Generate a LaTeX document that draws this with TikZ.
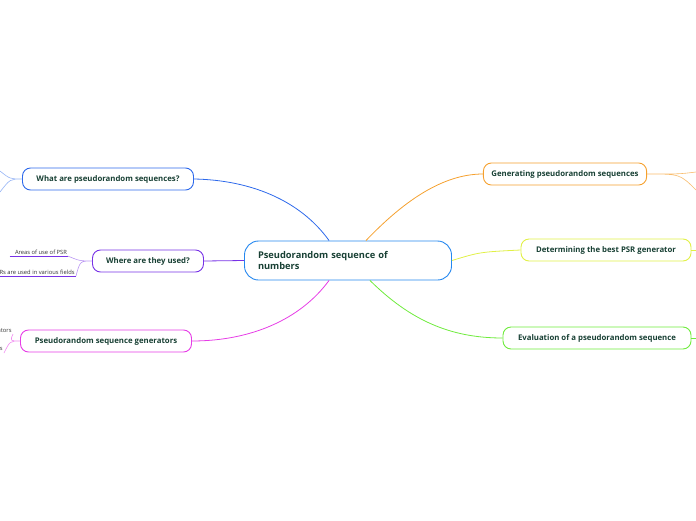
\documentclass[tikz,border=0pt]{standalone}
\usepackage{fontspec}
\setmainfont{Open Sans}
\usetikzlibrary{positioning}

\definecolor{txt}{RGB}{24,64,52}
\definecolor{cblue}{RGB}{45,105,235}
\definecolor{cpurple}{RGB}{120,50,230}
\definecolor{cpink}{RGB}{230,60,230}
\definecolor{corange}{RGB}{245,160,45}
\definecolor{cyellow}{RGB}{225,240,70}
\definecolor{cgreen}{RGB}{110,235,60}

\begin{document}
\begin{tikzpicture}[x=1pt,y=-1pt,thick,
	main node/.style={draw,rounded corners=8pt,line width=0.9pt,minimum height=22pt,
		text=txt,font=\bfseries\fontsize{7.8}{9}\selectfont,inner xsep=8pt},
	leaf/.style={font=\fontsize{5.8}{6}\selectfont,text=black!80,inner sep=1pt},
	link/.style={line width=0.8pt}]
	
	\useasboundingbox (0,0) rectangle (696,520);
	\clip (0,0) rectangle (696,520);
	
	\node[main node,draw=cblue!80!cyan,minimum width=207pt,minimum height=39pt,rounded corners=14pt,
		font=\bfseries\fontsize{9.3}{11}\selectfont,align=left,text width=180pt] (root) at (348,260.5)
		{Pseudorandom sequence of\\numbers};
	
	\node[main node,draw=cblue,minimum width=171pt] (what) at (108,179) {What are pseudorandom sequences?};
	\node[main node,draw=cpurple,minimum width=111pt] (where) at (148,261) {Where are they used?};
	\node[main node,draw=cpink,minimum width=171pt] (gens) at (106,341) {Pseudorandom sequence generators};
	\node[main node,draw=corange,minimum width=149pt] (gen) at (565,174) {Generating pseudorandom sequences};
	\node[main node,draw=cyellow,minimum width=170pt] (best) at (606,250) {Determining the best PSR generator};
	\node[main node,draw=cgreen,minimum width=188pt] (eval) at (597,338) {Evaluation of a pseudorandom sequence};
	
	% branches from the centre
	\draw[link,cblue] (root.north west) ++(85,0) coordinate (r1)
		(r1) .. controls (300,200) and (250,180) .. (what.east);
	\draw[link,cpurple] (root.west) -- (where.east);
	\draw[link,cpink] (root.south west) ++(85,0) coordinate (r3)
		(r3) .. controls (300,320) and (250,341) .. (gens.east);
	\draw[link,corange] (root.north east) ++(-86,0) coordinate (r4)
		(r4) .. controls (400,205) and (440,174) .. (gen.west);
	\draw[link,cyellow] (root.east) .. controls (480,252) .. (best.west);
	\draw[link,cgreen] (root.south east) ++(-82,0) coordinate (r6)
		(r6) .. controls (410,320) and (450,338) .. (eval.west);
	
	% leaves
	\coordinate (w1) at (0,171); \coordinate (w2) at (0,192);
	\draw[cblue!50,line width=0.6pt] (what.west) .. controls (10,179) .. (w1)
		(what.west) .. controls (10,179) .. (w2);
	\coordinate (o1) at (696,172); \coordinate (o2) at (696,190);
	\draw[corange!70,line width=0.6pt] (gen.east) .. controls (680,174) .. (o1)
		(gen.east) .. controls (680,174) .. (o2);
	\draw[cyellow,line width=0.6pt] (best.east) -- ++(6,0) coordinate (b1);
	\draw[cgreen,line width=0.6pt] (eval.east) -- ++(6,0) coordinate (e1);
	
	\node[leaf,anchor=south] (areas) at (41,256) {Areas of use of PSR};
	\node[leaf,anchor=south east] (fields) at (76,276) {PSRs are used in various fields};
	\draw[cpurple,line width=1pt] (areas.south west) ++(-4,0) -- ++(58,0) coordinate (a2);
	\draw[cpurple,line width=1pt] (fields.south west) -- (fields.south east);
	\draw[cpurple!50,line width=0.6pt] (where.west) .. controls (80,261) .. (a2)
		(where.west) .. controls (80,261) .. (fields.south east);
	
	\node[leaf,anchor=south east] (g1) at (13,334) {Generators};
	\node[leaf,anchor=south east] (g2) at (4,353) {Types};
	\draw[cpink!60,line width=0.6pt] (gens.west) .. controls (10,341) .. (g1.south east)
		(gens.west) .. controls (10,341) .. (g2.south east);
\end{tikzpicture}
\end{document}
